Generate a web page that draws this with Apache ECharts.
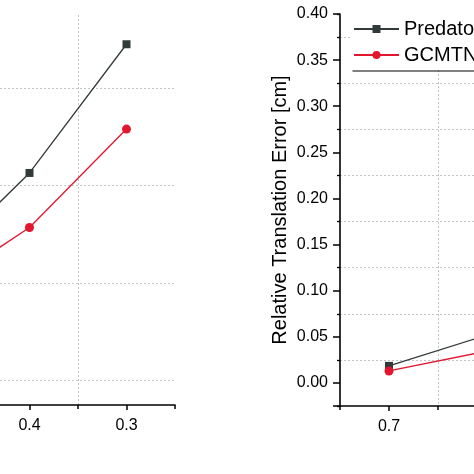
<!DOCTYPE html>
<html>
<head>
<meta charset="utf-8">
<script src="https://cdn.jsdelivr.net/npm/echarts@6/dist/echarts.min.js"></script>
<style>html,body{margin:0;padding:0;background:#fff}#c{width:474px;height:474px}</style>
</head>
<body>
<div id="c"></div>
<script>
// Left panel (partially visible)
const leftCategories = ['0.5', '0.4', '0.3'];
const leftPredator = [2.15, 3.13, 4.45];
const leftGCMTN = [1.91, 2.57, 3.58];
// Right panel (partially visible)
const rightCategories = ['0.7', '0.6'];
const rightPredator = [0.0185, 0.052];
const rightGCMTN = [0.013, 0.0345];
const seriesNames = ['Predator', 'GCMTN'];
const yAxisName = 'Relative Translation Error [cm]';

const FONT = 'Liberation Sans, Arial, sans-serif';
const C_PRED = '#333a3a';
const C_GC = '#e3162f';
const GRIDLINE = { show: true, lineStyle: { color: '#c4c4c4', type: [2, 2], width: 1 }, showMinLine: false, showMaxLine: false };
const AXLINE = { show: true, onZero: false, lineStyle: { color: '#000', width: 1.6 } };

const chart = echarts.init(document.getElementById('c'), null, { renderer: 'canvas' });

function labelAxis(gridIndex, data) {
  return {
    type: 'category', gridIndex, data, boundaryGap: true, position: 'bottom',
    axisLine: AXLINE,
    axisTick: { show: true, alignWithLabel: true, length: 5, lineStyle: { color: '#000', width: 1.5 } },
    axisLabel: { color: '#000', fontSize: 16, fontFamily: FONT, margin: 13 },
    splitLine: { show: false }
  };
}
function boundaryAxis(gridIndex, data) {
  return {
    type: 'category', gridIndex, data, boundaryGap: true, position: 'bottom',
    axisLine: { show: false, onZero: false },
    axisTick: { show: true, length: 4, lineStyle: { color: '#000', width: 1.5 } },
    axisLabel: { show: false },
    splitLine: GRIDLINE
  };
}
function lineSeries(name, xi, yi, data, color, symbol, size) {
  return {
    name, type: 'line', xAxisIndex: xi, yAxisIndex: yi, data,
    symbol, symbolSize: size, showSymbol: true,
    itemStyle: { color },
    lineStyle: { color, width: 1.3 },
    z: name === 'Predator' ? 3 : 4,
    animation: false
  };
}

chart.setOption({
  backgroundColor: '#fff',
  animation: false,
  grid: [
    { left: -116, width: 291, top: 15, bottom: 69, containLabel: false, outerBoundsMode: 'none' },
    { left: 340, width: 196, top: 14, bottom: 68, containLabel: false, outerBoundsMode: 'none' }
  ],
  legend: {
    data: seriesNames,
    orient: 'vertical',
    left: 350, top: 14,
    padding: [5, 30, 4, 3],
    itemGap: 6,
    itemWidth: 45, itemHeight: 10,
    backgroundColor: '#fff',
    textStyle: { fontSize: 20, fontFamily: FONT, color: '#000' }
  },
  graphic: [
    { type: 'line', left: 350, top: 68.5, shape: { x1: 0, y1: 0, x2: 130, y2: 0 }, style: { stroke: '#000', lineWidth: 1 }, z: 100 }
  ],
  xAxis: [
    labelAxis(0, leftCategories),
    boundaryAxis(0, leftCategories),
    labelAxis(1, rightCategories),
    boundaryAxis(1, rightCategories)
  ],
  yAxis: [
    {
      type: 'value', gridIndex: 0, min: 0.75, max: 4.75, splitNumber: 4,
      axisLine: { show: false }, axisTick: { show: false }, axisLabel: { show: false },
      splitLine: GRIDLINE
    },
    {
      type: 'value', gridIndex: 1, min: -0.025, max: 0.4, splitNumber: 8, position: 'left',
      axisLine: AXLINE,
      axisTick: { show: true, length: 7, lineStyle: { color: '#000', width: 1.5 } },
      axisLabel: {
        color: '#000', fontSize: 16, fontFamily: FONT, margin: 12,
        formatter: v => (v < -1e-9 ? '' : v.toFixed(2))
      },
      splitLine: { show: false },
      name: yAxisName, nameLocation: 'middle', nameGap: 50,
      nameTextStyle: { color: '#000', fontSize: 20, fontFamily: FONT }
    },
    {
      type: 'value', gridIndex: 1, min: -0.025, max: 0.4, interval: 0.05, position: 'left',
      axisLine: { show: false, onZero: false },
      axisTick: { show: true, length: 3, lineStyle: { color: '#000', width: 1.3 } },
      axisLabel: { show: false },
      splitLine: GRIDLINE
    }
  ],
  series: [
    lineSeries(seriesNames[0], 0, 0, leftPredator, C_PRED, 'rect', 8),
    lineSeries(seriesNames[1], 0, 0, leftGCMTN, C_GC, 'circle', 9),
    lineSeries(seriesNames[0], 2, 1, rightPredator, C_PRED, 'rect', 8),
    lineSeries(seriesNames[1], 2, 1, rightGCMTN, C_GC, 'circle', 9)
  ]
});
</script>
</body>
</html>
